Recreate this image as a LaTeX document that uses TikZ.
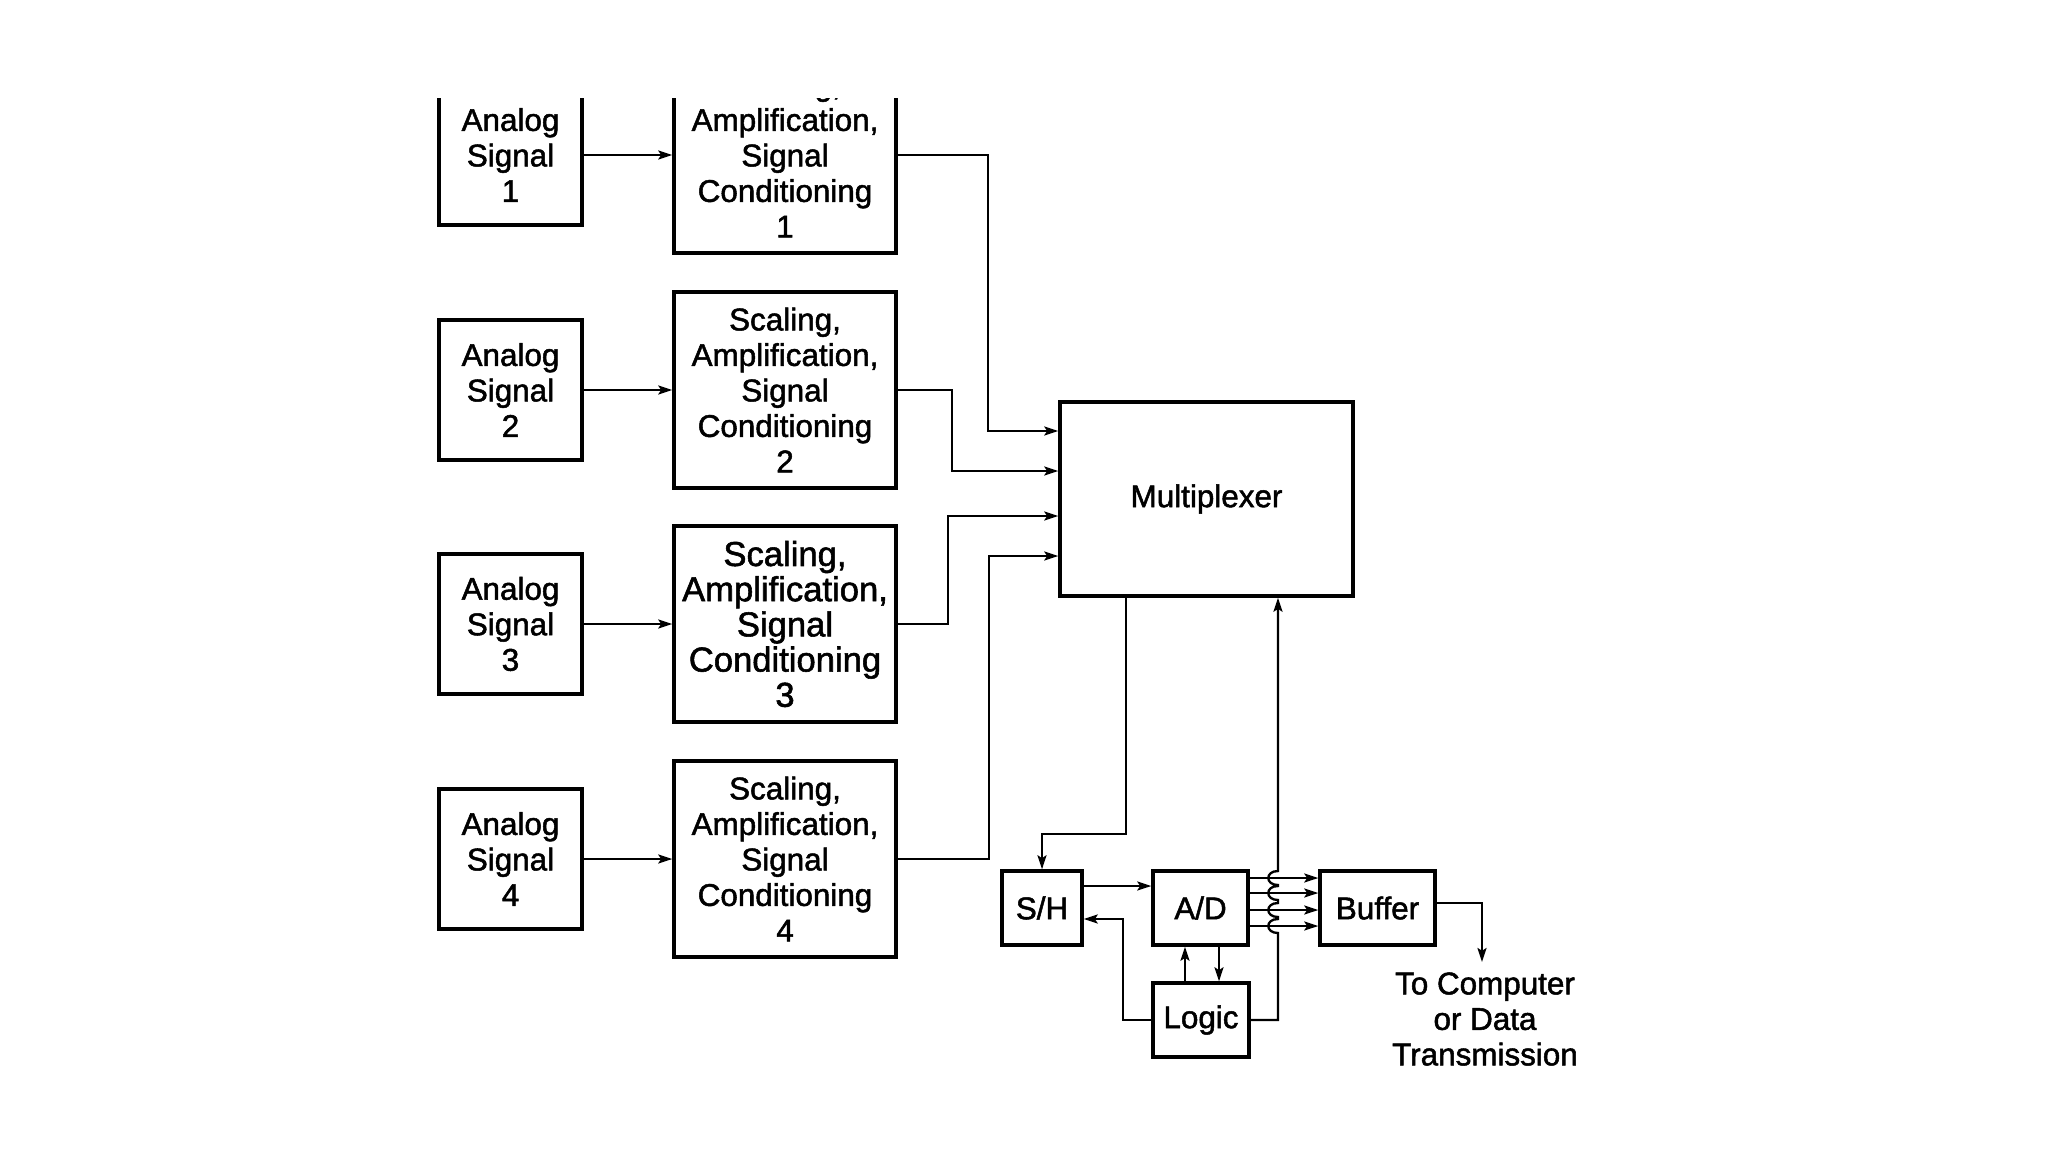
\documentclass[tikz,border=0pt]{standalone}
\usepackage{fontspec}
\setmainfont{Liberation Sans}[UprightFeatures={FakeBold=1.6}]
\usetikzlibrary{arrows.meta,calc}
\begin{document}
\begin{tikzpicture}[x=0.5pt,y=-0.5pt,
  box/.style={draw,line width=1.7pt,align=center,inner sep=0pt,font=\fontsize{15.7pt}{17.75pt}\selectfont},
  asig/.style={box,minimum width=71.5pt,minimum height=70pt},
  scal/.style={box,minimum width=111pt,minimum height=98pt},
  smallbox/.style={box,minimum height=37pt},
  arr/.style={line width=1.15pt,-{Stealth[length=7pt,width=4.5pt,inset=1.4pt]}},
  lbl/.style={align=center,inner sep=0pt,font=\fontsize{15.7pt}{17.75pt}\selectfont}]
\fill[white] (0,0) rectangle (2048,1152);
\useasboundingbox (0,0) rectangle (2048,1152);
\begin{scope}
\clip (0,98) rectangle (2048,1152);
% analog signal boxes
\node[asig] (a1) at (510.5,155) {Analog\\Signal\\1};
\node[asig] (a2) at (510.5,390) {Analog\\Signal\\2};
\node[asig] (a3) at (510.5,624) {Analog\\Signal\\3};
\node[asig] (a4) at (510.5,859) {Analog\\Signal\\4};
% scaling boxes
\node[scal] (s1) at (785,155) {Scaling,\\Amplification,\\Signal\\Conditioning\\1};
\node[scal] (s2) at (785,390) {Scaling,\\Amplification,\\Signal\\Conditioning\\2};
\node[scal,font=\fontsize{17.3pt}{17.6pt}\selectfont] (s3) at (785,624) {Scaling,\\Amplification,\\Signal\\Conditioning\\3};
\node[scal] (s4) at (785,859) {Scaling,\\Amplification,\\Signal\\Conditioning\\4};
% multiplexer
\node[box,minimum width=146.5pt,minimum height=97pt] (mux) at (1206.5,499) {Multiplexer};
% small boxes
\node[smallbox,minimum width=40pt] (sh) at (1042,908) {S/H};
\node[smallbox,minimum width=47.5pt] (ad) at (1200.5,908) {A/D};
\node[smallbox,minimum width=57.5pt] (buf) at (1377.5,908) {Buffer};
\node[smallbox,minimum width=48pt] (logic) at (1201,1020) {Logic};
\node[lbl,anchor=north] (out) at (1485,972) {To Computer\\or Data\\Transmission};
% analog -> scaling
\foreach \i in {1,2,3,4} \draw[arr] (a\i.east) -- (s\i.west);
% scaling -> multiplexer
\draw[arr] (s1.east) -- ++(90,0) |- ($(mux.west)+(0,-68)$);
\draw[arr] (s2.east) -- ++(54,0) |- ($(mux.west)+(0,-28)$);
\draw[arr] (s3.east) -- ++(50,0) |- ($(mux.west)+(0,17)$);
\draw[arr] (s4.east) -- ++(91,0) |- ($(mux.west)+(0,57)$);
% multiplexer -> S/H
\coordinate (c1) at (1126,834);
\draw[arr] (mux.south -| c1) -- (c1) -| (sh.north);
% S/H -> A/D
\coordinate (ysa) at (0,886);
\draw[arr] (sh.east |- ysa) -- (ad.west |- ysa);
% Logic -> S/H
\coordinate (xls) at (1123,919);
\draw[arr] (logic.west) -| (xls) -- (sh.east |- xls);
% Logic <-> A/D
\coordinate (xup) at (1185,0);
\coordinate (xdn) at (1219,0);
\draw[arr] (logic.north -| xup) -- (ad.south -| xup);
\draw[arr] (ad.south -| xdn) -- (logic.north -| xdn);
% A/D -> Buffer (4 lines)
\foreach \yy in {878,893,910,926} {
  \coordinate (t) at (0,\yy);
  \draw[arr] (ad.east |- t) -- (buf.west |- t);
}
% Logic -> Multiplexer with hops
\coordinate (hx) at (1278,1020);
\draw[arr] (logic.east) -- (hx) -- (1278,933)
  .. controls (1265,933) and (1265,919) .. (1278,919) -- (1278,917)
  .. controls (1265,917) and (1265,903) .. (1278,903) -- (1278,900)
  .. controls (1265,900) and (1265,886) .. (1278,886) -- (1278,885)
  .. controls (1265,885) and (1265,871) .. (1278,871)
  -- (mux.south -| hx);
% Buffer -> output
\coordinate (bo) at (1482,903);
\coordinate (be) at (1482,962);
\draw[arr] (buf.east |- bo) -| (be);
\end{scope}
\end{tikzpicture}
\end{document}
